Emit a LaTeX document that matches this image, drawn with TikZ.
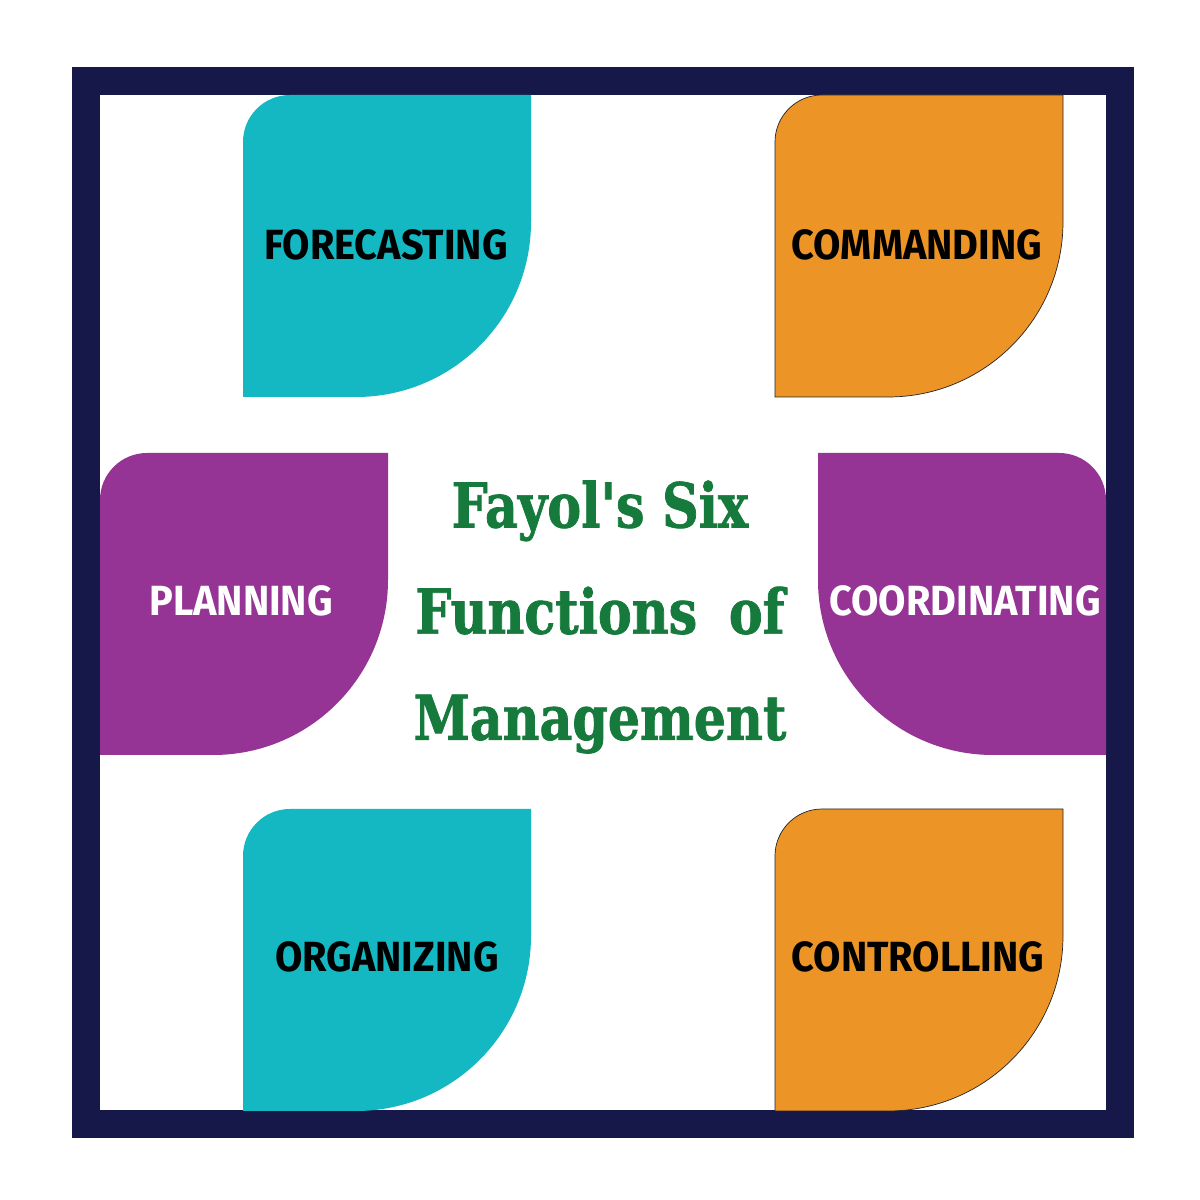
\documentclass[tikz,border=0pt]{standalone}
\usepackage{fontspec}
\newfontfamily\labelfont{Fira Sans}[FakeStretch=0.94]
\newfontfamily\titlefont{DejaVu Serif}[FakeStretch=0.82, FakeBold=1.2]
\definecolor{fteal}{RGB}{19,184,194}
\definecolor{forange}{RGB}{236,149,38}
\definecolor{fpurple}{RGB}{149,52,148}
\definecolor{fnavy}{RGB}{21,24,72}
\definecolor{fgreen}{RGB}{22,122,60}
\tikzset{leafteal/.style={fill=fteal},
         leaforange/.style={fill=forange, draw=black!85, very thin},
         leafpurple/.style={fill=fpurple},
         fnlabel/.style={font=\labelfont\bfseries\fontsize{12}{14}\selectfont,
         inner sep=0pt, text=#1},
         fnlabel/.default={black}}
\begin{document}
\begin{tikzpicture}
  \useasboundingbox (0,0) rectangle (12,12);
  \fill[white] (0,0) rectangle (12,12);
  \draw[fnavy, line width=0.28cm] (0.86,0.755) rectangle (11.195,11.19);
  % five leaves rounded top left and bottom right
  \foreach \x/\y/\s in {2.43/8.03/leafteal, 7.75/8.03/leaforange,
      1.00/4.45/leafpurple, 2.43/0.89/leafteal, 7.75/0.89/leaforange}
    \path[\s] (\x,\y) -- ++(0,2.55) arc[start angle=180, end angle=90, radius=0.47]
      -- ++(2.41,0) -- ++(0,-1.27) arc[start angle=0, end angle=-90, radius=1.75]
      -- cycle;
  % mirrored one
  \path[leafpurple] (11.06,4.45) -- ++(0,2.55) arc[start angle=0, end angle=90, radius=0.47]
    -- ++(-2.41,0) -- ++(0,-1.27) arc[start angle=180, end angle=270, radius=1.75]
    -- cycle;
  \node[fnlabel] (forecast) at (3.86,9.55) {FORECASTING};
  \node[fnlabel] (command) at (9.17,9.55) {COMMANDING};
  \node[fnlabel=white] (plan) at (2.41,5.99) {PLANNING};
  \node[fnlabel=white] (coord) at (9.65,5.99) {COORDINATING};
  \node[fnlabel] (organize) at (3.87,2.43) {ORGANIZING};
  \node[fnlabel] (control) at (9.18,2.43) {CONTROLLING};
  \node[font=\titlefont\bfseries\fontsize{17.6}{30.2}\selectfont, text=fgreen,
    align=center, inner sep=0pt] (title) at (6.0,5.83)
    {Fayol's Six\\Functions\hspace{4pt} of\\Management};
\end{tikzpicture}
\end{document}
